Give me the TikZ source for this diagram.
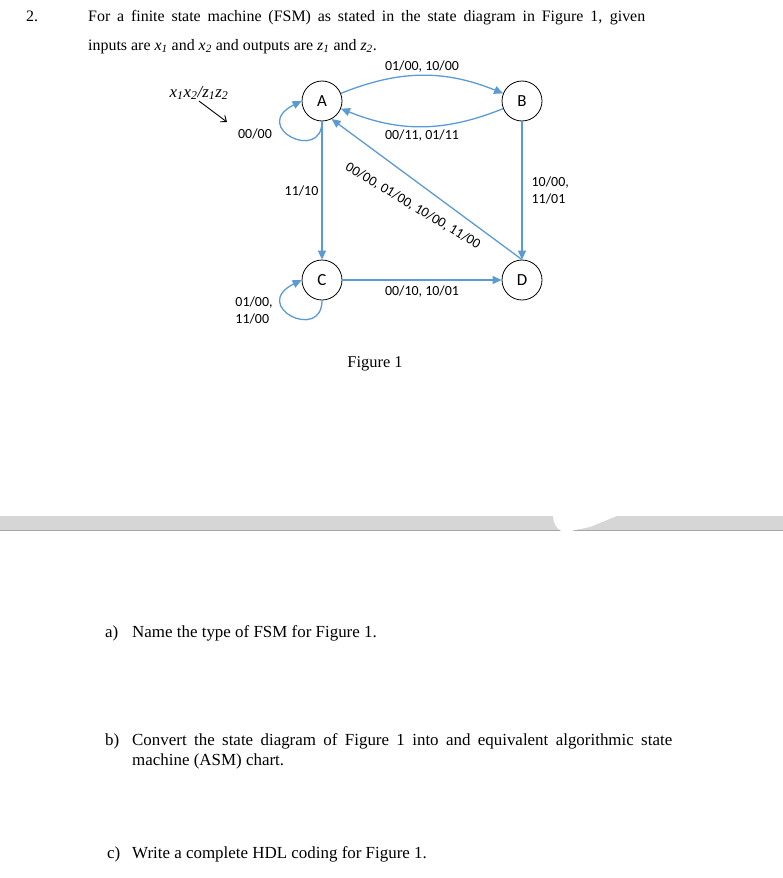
\documentclass[tikz,border=0pt]{standalone}
\usepackage{fontspec}
\setmainfont{Liberation Serif}
\newfontfamily\diagfont{Carlito}
\usetikzlibrary{positioning,arrows.meta}
\definecolor{fsmblue}{RGB}{91,155,213}
\definecolor{bargray}{RGB}{214,214,214}

\begin{document}
\begin{tikzpicture}[x=1bp, y=1bp,
        state/.style={circle, draw=black, line width=0.8bp, minimum size=40bp, inner sep=0pt, font=\diagfont\fontsize{17}{17}\selectfont},
        lbl/.style={font=\diagfont\fontsize{14}{17}\selectfont, inner sep=3bp, align=left},
        txt/.style={font=\fontsize{16}{29}\selectfont, inner sep=0pt, anchor=base west},
        qtxt/.style={font=\fontsize{17}{20}\selectfont, inner sep=0pt, anchor=base west},
        node distance=179bp and 200bp, on grid
    ]
    \useasboundingbox (0,0) rectangle (783,-878);

    %styles
    \tikzstyle{trans}=[-{Triangle[length=9bp,width=8bp]}, draw=fsmblue, line width=1.3bp]
    \tikzstyle{keyarrow}=[-{Straight Barb[length=5bp,width=8bp]}, line width=0.9bp]

    %question text
    \node[txt] (qnum) at (26,-21) {2.};
    \node[txt] (line1) at (88,-21) {\makebox[557bp][s]{For a finite state machine (FSM) as stated in the state diagram in Figure 1, given}};
    \node[txt] (line2) at (88,-50) {inputs are \textit{x}\textsubscript{\textit{1}} and \textit{x}\textsubscript{\textit{2}} and outputs are \textit{z}\textsubscript{\textit{1}} and \textit{z}\textsubscript{\textit{2}}.};

    %nodes
    \node[state] (A) at (322,-101) {A};
    \node[state, right=of A] (B) {B};
    \node[state, below=of A] (C) {C};
    \node[state, right=of C] (D) {D};

    \node[font=\fontsize{17}{17}\selectfont\itshape, inner sep=1bp] (key) at (199,-93) {x\textsubscript{1}x\textsubscript{2}/z\textsubscript{1}z\textsubscript{2}};
    \coordinate (keytip) at (227,-122);

    %arrows
    \draw[trans] (A) to[bend left=22] node[lbl, above] (lAB) {01/00, 10/00} (B);
    \draw[trans] (B) to[bend left=22] node[lbl, below] (lBA) {00/11, 01/11} (A);
    \draw[trans] (A.south) .. controls +(0,-42) and +(-52,-26) .. (A.west);
    \draw[trans] (A) -- node[lbl, left] (lAC) {11/10} (C);
    \draw[trans] (B) -- node[lbl, right, xshift=6bp] (lBD) {10/00,\\11/01} (D);
    \draw[trans] (C) -- node[lbl, below, yshift=-2bp] (lCD) {00/10, 10/01} (D);
    \draw[trans] (D.north) -- (A.-62);
    \draw[trans] (C.south) .. controls +(0,-42) and +(-52,-26) .. (C.west);
    \draw[keyarrow] (key.south) -- (keytip);

    %loose labels
    \node[lbl] (lAA) at (255,-134) {00/00};
    \node[lbl] (lCC) at (254,-310) {01/00,\\11/00};
    \node[lbl, rotate=-31] (lDA) at (413,-206) {00/00, 01/00, 10/00, 11/00};

    \node[font=\fontsize{16.5}{16.5}\selectfont, inner sep=0pt, anchor=base] (fig) at (375,-367) {Figure 1};

    %page break bar
    \fill[bargray] (0,-516) rectangle (783,-531);
    \draw[gray!70, line width=1bp] (0,-530.5) -- (783,-530.5);
    \fill[white] (553,-515) .. controls (553,-524) and (558,-532) .. (566,-532) -- (590,-527) -- (619,-515) -- cycle;

    %parts
    \node[qtxt] (qa) at (105,-637) {a)};
    \node[qtxt] (qatext) at (132,-637) {Name the type of FSM for Figure 1.};
    \node[qtxt] (qb) at (105,-745) {b)};
    \node[qtxt] (qbtext) at (132,-745) {\makebox[540bp][s]{Convert the state diagram of Figure 1 into and equivalent algorithmic state}};
    \node[qtxt] (qbtext2) at (132,-765) {machine (ASM) chart.};
    \node[qtxt] (qc) at (107,-858) {c)};
    \node[qtxt] (qctext) at (132,-858) {Write a complete HDL coding for Figure 1.};
\end{tikzpicture}
\end{document}
